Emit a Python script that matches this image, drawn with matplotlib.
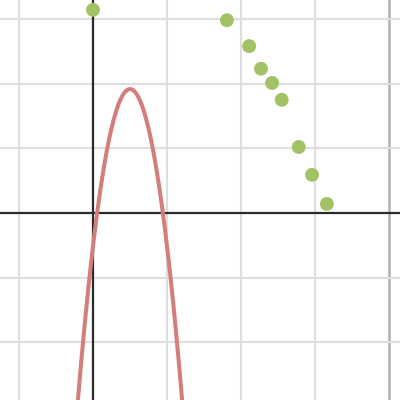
import numpy as np
import matplotlib
matplotlib.use("Agg")
import matplotlib.pyplot as plt

# Scatter points (grid units)
pts_x = [0.0, 1.81, 2.11, 2.27, 2.42, 2.55, 2.78, 2.96, 3.16]
pts_y = [3.14, 2.98, 2.58, 2.23, 2.01, 1.75, 1.02, 0.59, 0.14]

# Parabola coefficients y = a*x^2 + b*x + c
coef_a = -9.7
coef_b = 9.7
coef_c = -0.51

fig = plt.figure(figsize=(4, 4), dpi=100)
ax = fig.add_axes([0, 0, 1, 1])
ax.set_xlim(-93 / 74, 307 / 74)
ax.set_ylim(-187 / 64.7, 213 / 64.7)

for gx in [-1, 1, 2, 3]:
    ax.axvline(gx, color="#dedede", lw=1.5, zorder=0)
ax.axvline(4, color="#b0b0b0", lw=1.8, zorder=0)
for gy in [-2, -1, 1, 2, 3]:
    ax.axhline(gy, color="#dedede", lw=1.5, zorder=0)
ax.axhline(0, color="#2a2a2a", lw=1.6, zorder=1)
ax.axvline(0, color="#2a2a2a", lw=1.6, zorder=1)

xs = np.linspace(-0.5, 1.5, 600)
ys = coef_a * xs**2 + coef_b * xs + coef_c
ax.plot(xs, ys, color="#d47d7d", lw=2.9, zorder=2, solid_capstyle="round")

ax.scatter(pts_x, pts_y, s=100, color="#a2c265", edgecolors="none", zorder=3)

ax.set_xticks([])
ax.set_yticks([])
for s in ax.spines.values():
    s.set_visible(False)

fig.savefig("out.png", dpi=100)
